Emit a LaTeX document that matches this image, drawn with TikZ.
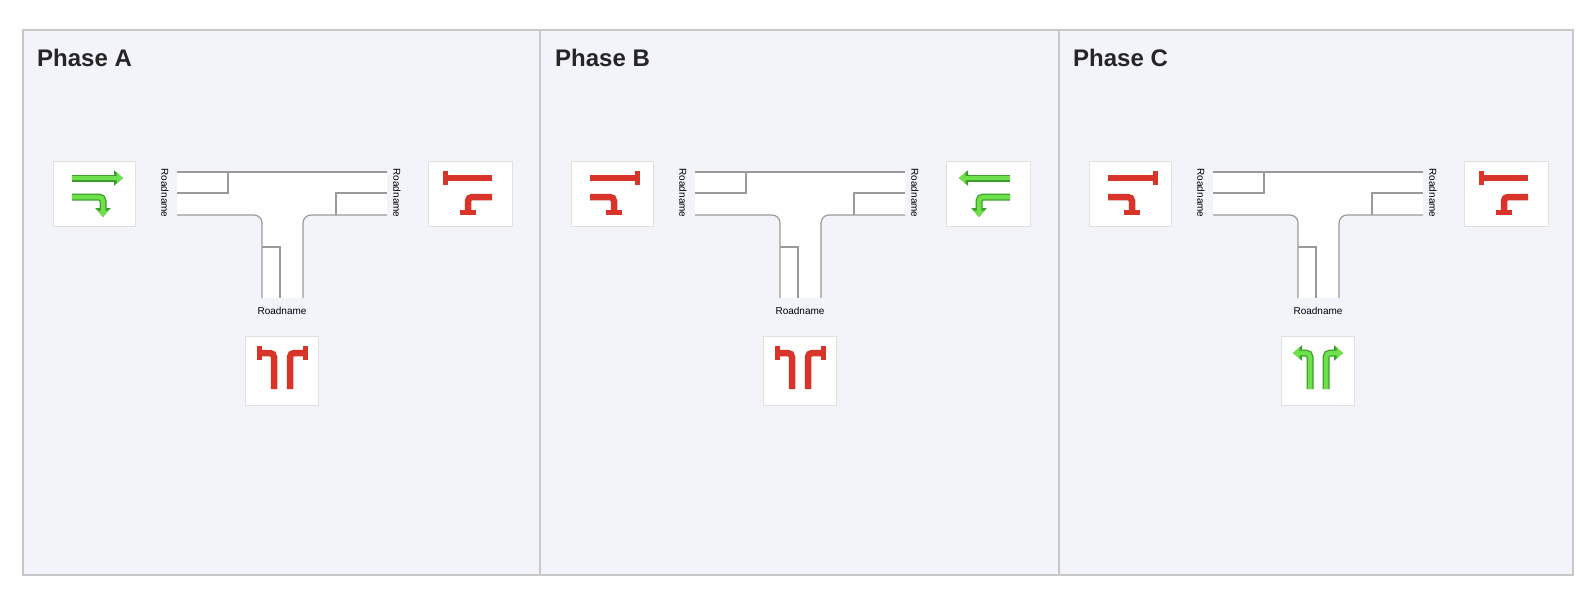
\documentclass[tikz,border=0pt]{standalone}
\usepackage{fontspec}
\setmainfont{Liberation Sans}
\usetikzlibrary{arrows.meta}
\definecolor{gL}{HTML}{6EE04A}
\definecolor{gD}{HTML}{3A9E2A}
\definecolor{rL}{HTML}{D8342A}
\definecolor{panel}{HTML}{F3F4F9}
\definecolor{frame}{HTML}{C8C8C8}
\definecolor{road}{HTML}{9A9A9A}
\tikzset{
  gout/.style={line width=7, color=gD, rounded corners=4, -{Triangle[width=15,length=9]}},
  gin/.style={line width=4.5, color=gL, rounded corners=4, -{Triangle[width=11,length=6.5]}},
  rline/.style={line width=6.5, color=rL, rounded corners=4},
  rbar/.style={line width=5, color=rL},
  sigbox/.style={draw=black!12, fill=white, line width=1},
  roadln/.style={draw=road, line width=1.2},
  rname/.style={font=\fontsize{10}{10}\selectfont, inner sep=0},
  title/.style={font=\fontsize{24}{24}\selectfont\bfseries, anchor=base west, text=black!85, inner sep=0}
}
\newcommand{\garrow}[1]{\draw[gout] #1; \draw[gin] #1;}
\newcommand{\LG}{\garrow{(72,178)--(123,178)}\garrow{(72,197)--(103,197)--(103,217)}}
\newcommand{\LR}{\draw[rline] (72,178)--(117,178); \draw[rbar] (119,171)--(119,185);
  \draw[rline] (72,197)--(96,197)--(96,210); \draw[rbar] (88,212)--(104,212);}
\newcommand{\RG}{\garrow{(492,178)--(441,178)}\garrow{(492,197)--(461,197)--(461,217)}}
\newcommand{\RR}{\draw[rline] (492,178)--(447,178); \draw[rbar] (445,171)--(445,185);
  \draw[rline] (492,197)--(468,197)--(468,210); \draw[rbar] (460,212)--(476,212);}
\newcommand{\BG}{\garrow{(274,389)--(274,353)--(257,353)}\garrow{(290,389)--(290,353)--(307,353)}}
\newcommand{\BR}{\draw[rline] (274,389)--(274,353)--(261,353); \draw[rbar] (259,346)--(259,360);
  \draw[rline] (290,389)--(290,353)--(303,353); \draw[rbar] (305,346)--(305,360);}
\newcommand{\phasecontent}[5]{%
\begin{scope}[shift={(#1,0)}]
  \node[title] (t#2) at (37,66) {Phase #2};
  \fill[white] (177,172)--(387,172)--(387,215)--(311,215) to[out=180,in=90] (303,223)--(303,298)--(262,298)--(262,223) to[out=90,in=0] (254,215)--(177,215)--cycle;
  \draw[roadln] (177,172)--(387,172);
  \draw[roadln] (177,193)--(228,193)--(228,172);
  \draw[roadln] (387,193)--(336,193)--(336,215);
  \draw[roadln] (177,215)--(254,215) to[out=0,in=90] (262,223)--(262,298);
  \draw[roadln] (387,215)--(311,215) to[out=180,in=90] (303,223)--(303,298);
  \draw[roadln] (262,247)--(280,247)--(280,298);
  \node[rname, rotate=-90] (l#2) at (165,193) {Roadname};
  \node[rname, rotate=-90] (r#2) at (397,193) {Roadname};
  \node[rname] (b#2) at (282,311) {Roadname};
  \draw[sigbox] (53,161) rectangle (135,226);
  \draw[sigbox] (428,161) rectangle (512,226);
  \draw[sigbox] (245,336) rectangle (318,405);
  #3 #4 #5
\end{scope}}
\begin{document}
\begin{tikzpicture}[x=1pt,y=-1pt]
\useasboundingbox (0,0) rectangle (1592,590);
\fill[white] (0,0) rectangle (1592,590);
\draw[frame, fill=panel, line width=1.5] (23,30) rectangle (1573,575);
\draw[frame, line width=1.5] (540,30)--(540,575);
\draw[frame, line width=1.5] (1059,30)--(1059,575);
\phasecontent{0}{A}{\LG}{\RR}{\BR}
\phasecontent{518}{B}{\LR}{\RG}{\BR}
\phasecontent{1036}{C}{\LR}{\RR}{\BG}
\end{tikzpicture}
\end{document}
